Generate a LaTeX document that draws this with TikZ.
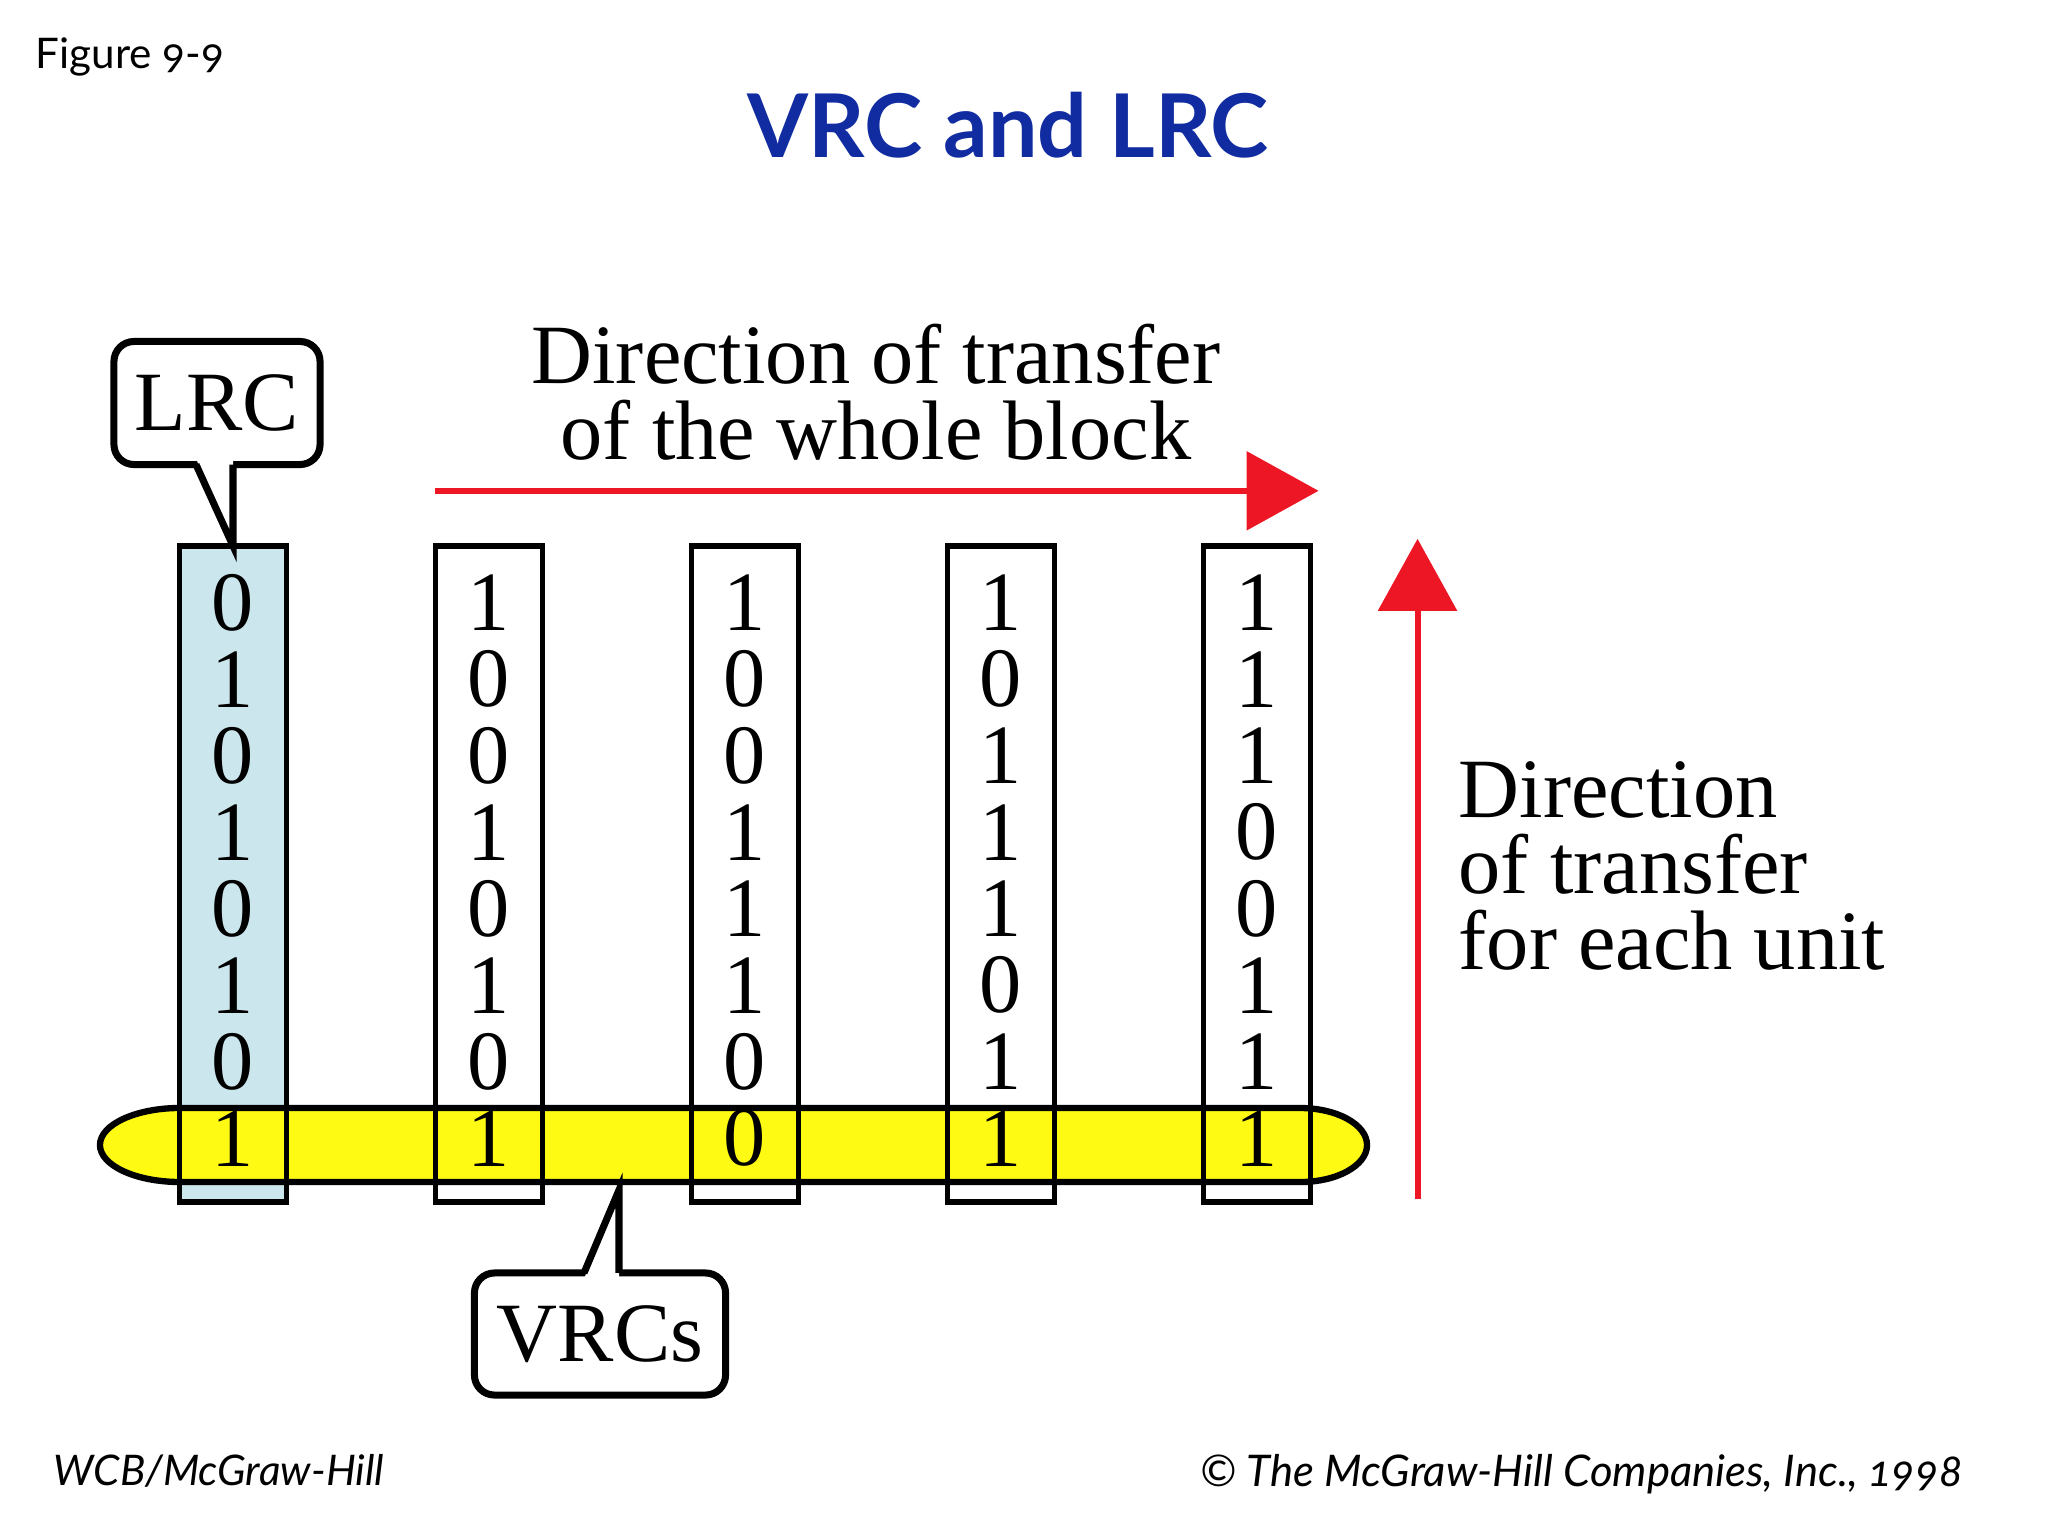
\documentclass[tikz,border=0pt]{standalone}
\usepackage{fontspec}
\setmainfont{Liberation Serif}
\newfontfamily\slidefont{Lato}[Numbers=OldStyle]
\usepackage{tikz}
\usetikzlibrary{arrows.meta, calc}

\definecolor{titleblue}{RGB}{16,44,160}
\definecolor{lrcblue}{RGB}{204,230,238}
\definecolor{bandyellow}{RGB}{255,250,20}
\definecolor{arrowred}{RGB}{236,22,36}

\tikzset{
  bigtext/.style={font=\fontsize{24}{21.6}\selectfont, inner sep=0pt},
  slidetext/.style={font=\slidefont\fontsize{12}{14}\selectfont, inner sep=0pt},
  unit/.style={minimum width=1.07cm, minimum height=6.56cm, inner sep=0pt, outer sep=0pt},
  bit/.style={bigtext},
  callout/.style={bigtext, draw, line width=2pt, rounded corners=0.2cm, fill=white, outer sep=0pt},
  tail/.style={line width=2pt, line join=miter},
  redarrow/.style={arrowred, line width=0.06cm, -{Triangle[length=0.72cm, width=0.78cm]}},
}

\begin{document}
\begin{tikzpicture}[x=0.01cm, y=-0.01cm]
    \useasboundingbox (0,0) rectangle (2048,1536);

    \node[slidetext, anchor=base west] (fig) at (35,68) {Figure 9-9};
    \node[slidetext, font=\slidefont\bfseries\fontsize{25}{30}\selectfont, text=titleblue, anchor=base] (title) at (1008,157) {VRC and LRC};
    \node[slidetext, font=\slidefont\itshape\fontsize{12}{14}\selectfont, anchor=base west] (pub) at (53,1485) {WCB/McGraw-Hill};
    \node[slidetext, font=\slidefont\itshape\fontsize{12.4}{14}\selectfont, anchor=base east] (copy) at (1963,1486) {\textcopyright\ The McGraw-Hill Companies, Inc., 1998};

    \foreach \x [count=\i] in {233,489,745,1001,1257}
        \node[unit, fill=white] (c\i) at (\x,874) {};
    \fill[lrcblue] (c1.south west) rectangle (c1.north east);

    \draw[fill=bandyellow, line width=1.8pt] (180,1108) -- (1300,1108)
        arc[start angle=90, end angle=-90, x radius=0.67cm, y radius=0.37cm] -- (180,1182)
        arc[start angle=270, end angle=90, x radius=0.8cm, y radius=0.37cm] -- cycle;

    \foreach \i in {1,...,5}
        \draw[line width=1.6pt] (c\i.south west) rectangle (c\i.north east);

    \foreach \bits [count=\i] in {{0,1,0,1,0,1,0,1},{1,0,0,1,0,1,0,1},{1,0,0,1,1,1,0,0},{1,0,1,1,1,0,1,1},{1,1,1,0,0,1,1,1}}
        \foreach \b [count=\j] in \bits
            \node[bit] (b\i-\j) at ($(c\i.north)+(0,57+76.5*\j-76.5)$) {\b};

    \node[callout, minimum width=2.06cm, minimum height=1.23cm] (lrc) at (217,403) {LRC};
    \coordinate (ltip) at (c1.north);
    \coordinate (lr) at (ltip |- lrc.south);
    \coordinate (ll) at ($(lr)+(-37,0)$);
    \fill[white] ($(ll)+(0,-6)$) -- (ltip) -- ($(lr)+(0,-6)$) -- cycle;
    \draw[tail] (ll) -- (ltip) -- (lr);

    \node[callout, minimum width=2.51cm, minimum height=1.22cm] (vrcs) at (600,1334) {VRCs};
    \coordinate (vtip) at (619,1190);
    \coordinate (vr) at (vtip |- vrcs.north);
    \coordinate (vl) at ($(vr)+(-35,0)$);
    \fill[white] ($(vl)+(0,6)$) -- (vtip) -- ($(vr)+(0,6)$) -- cycle;
    \draw[tail] (vl) -- (vtip) -- (vr);

    \node[bigtext, align=center, anchor=north] (blocktxt) at (876,323) {Direction of transfer\\of the whole block};
    \draw[redarrow] ($(c2.north west)+(0,-55)$) -- ($(c5.north east)+(8,-55)$);

    \draw[redarrow] ($(c5.south east)+(107,-3)$) -- ($(c5.north east)+(107,-7)$);
    \node[bigtext, align=left, anchor=north west] (unittxt) at (1458,761) {Direction\\of transfer\\for each unit};
\end{tikzpicture}
\end{document}
